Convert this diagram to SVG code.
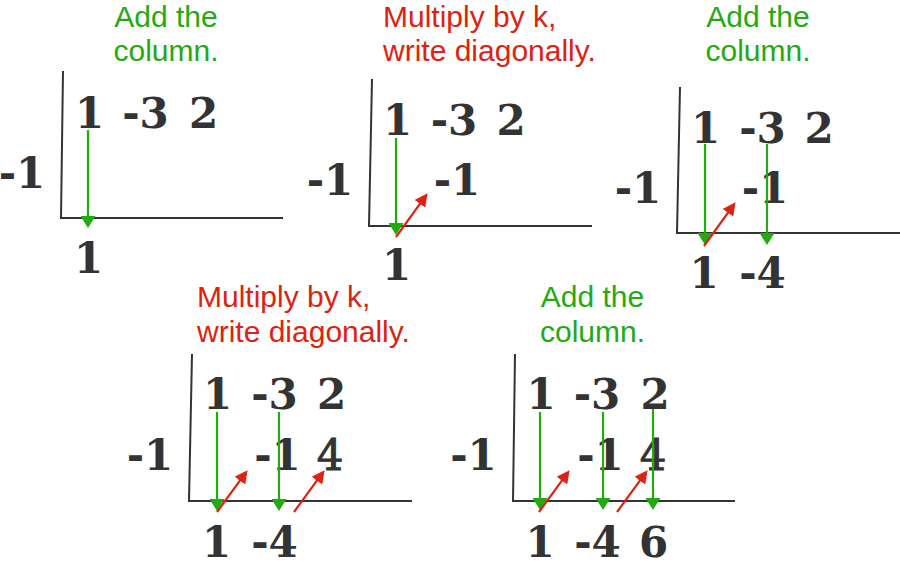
<svg xmlns="http://www.w3.org/2000/svg" width="900" height="571" viewBox="0 0 900 571">
<style>
.lbl{font-family:"Liberation Sans",Arial,sans-serif;font-size:30px}
.g{fill:#22aa11}
.r{fill:#dd2211}
.n{font-family:"DejaVu Serif","Liberation Serif",serif;font-size:42px;font-weight:bold;fill:#333333;text-anchor:middle}
.thin{font-weight:normal;stroke:#333333;stroke-width:0.9}
.ax{stroke:#333333;stroke-width:2;fill:none}
.ga{stroke:#22aa11;stroke-width:2.2;fill:none;marker-end:url(#gh)}
.ra{stroke:#dd2211;stroke-width:2.2;fill:none;marker-end:url(#rh)}
</style>
<defs>
<marker id="gh" viewBox="0 0 12 15" refX="3" refY="7.5" markerWidth="12" markerHeight="15" markerUnits="userSpaceOnUse" orient="auto">
<path d="M0,0 L12,7.5 L0,15 z" fill="#22aa11"/>
</marker>
<marker id="rh" viewBox="0 0 13 13" refX="3" refY="6.5" markerWidth="13" markerHeight="13" markerUnits="userSpaceOnUse" orient="auto">
<path d="M0,0 L13,6.5 L0,13 z" fill="#dd2211"/>
</marker>
</defs>

<g id="panel1">
<text class="lbl g" x="166" y="27" text-anchor="middle">Add the</text>
<text class="lbl g" x="166" y="61" text-anchor="middle">column.</text>
<path class="ax" d="M63,71 L61,218 L283,218"/>
<text class="n" x="89.5" y="128">1</text>
<text class="n" x="145.5" y="128">-3</text>
<text class="n" x="203.5" y="128">2</text>
<text class="n" x="22" y="188">-1</text>
<text class="n" x="88.5" y="273">1</text>
</g>

<g id="panel2">
<text class="lbl r" x="383" y="27">Multiply by k,</text>
<text class="lbl r" x="383" y="61">write diagonally.</text>
<path class="ax" d="M372,79 L369,226 L592,226"/>
<text class="n" x="397.5" y="135">1</text>
<text class="n" x="454" y="135">-3</text>
<text class="n" x="511" y="135">2</text>
<text class="n" x="330" y="195">-1</text>
<text class="n" x="457" y="195">-1</text>
<text class="n" x="396.5" y="280">1</text>
</g>

<g id="panel3">
<text class="lbl g" x="758" y="27" text-anchor="middle">Add the</text>
<text class="lbl g" x="758" y="61" text-anchor="middle">column.</text>
<path class="ax" d="M680,87 L677,233 L900,233"/>
<text class="n" x="705.5" y="143">1</text>
<text class="n" x="762.5" y="143">-3</text>
<text class="n" x="819" y="143">2</text>
<text class="n" x="638" y="203">-1</text>
<text class="n" x="765" y="203">-1</text>
<text class="n" x="704" y="288">1</text>
<text class="n" x="762.5" y="288">-4</text>
</g>

<g id="panel4">
<text class="lbl r" x="197" y="307">Multiply by k,</text>
<text class="lbl r" x="197" y="342">write diagonally.</text>
<path class="ax" d="M192,354 L189,501 L412,501"/>
<text class="n" x="217.5" y="409">1</text>
<text class="n" x="274.5" y="409">-3</text>
<text class="n" x="331.5" y="409">2</text>
<text class="n" x="150" y="470">-1</text>
<text class="n" x="277.5" y="470">-1</text>
<text class="n thin" x="330" y="470">4</text>
<text class="n" x="216.5" y="557">1</text>
<text class="n" x="274.5" y="557">-4</text>
</g>

<g id="panel5">
<text class="lbl g" x="592.5" y="307" text-anchor="middle">Add the</text>
<text class="lbl g" x="592.5" y="342" text-anchor="middle">column.</text>
<path class="ax" d="M515,354 L513,501 L735,501"/>
<text class="n" x="541" y="409">1</text>
<text class="n" x="597" y="409">-3</text>
<text class="n" x="655" y="409">2</text>
<text class="n" x="473.5" y="470">-1</text>
<text class="n" x="600.5" y="470">-1</text>
<text class="n thin" x="653" y="470">4</text>
<text class="n" x="540" y="557">1</text>
<text class="n" x="597.5" y="557">-4</text>
<text class="n" x="653.5" y="557">6</text>
</g>

<g id="connectors">
<line class="ga" x1="88" y1="130" x2="88" y2="219"/>
<line class="ga" x1="396" y1="138" x2="396" y2="226"/>
<line class="ra" x1="396" y1="237" x2="421.7" y2="201.3"/>
<line class="ga" x1="705" y1="144" x2="705" y2="236"/>
<line class="ga" x1="767" y1="144" x2="767" y2="236"/>
<line class="ra" x1="704" y1="246" x2="729.7" y2="210.3"/>
<line class="ga" x1="217" y1="412" x2="217" y2="502"/>
<line class="ga" x1="279" y1="412" x2="279" y2="502"/>
<line class="ra" x1="217" y1="512" x2="241.7" y2="478.2"/>
<line class="ra" x1="294" y1="512" x2="318.7" y2="478.2"/>
<line class="ga" x1="540" y1="412" x2="540" y2="501"/>
<line class="ga" x1="603" y1="412" x2="603" y2="501"/>
<line class="ga" x1="653" y1="409" x2="653" y2="501"/>
<line class="ra" x1="539" y1="512" x2="563.7" y2="478.2"/>
<line class="ra" x1="617" y1="512" x2="641.7" y2="478.2"/>
</g>
</svg>
